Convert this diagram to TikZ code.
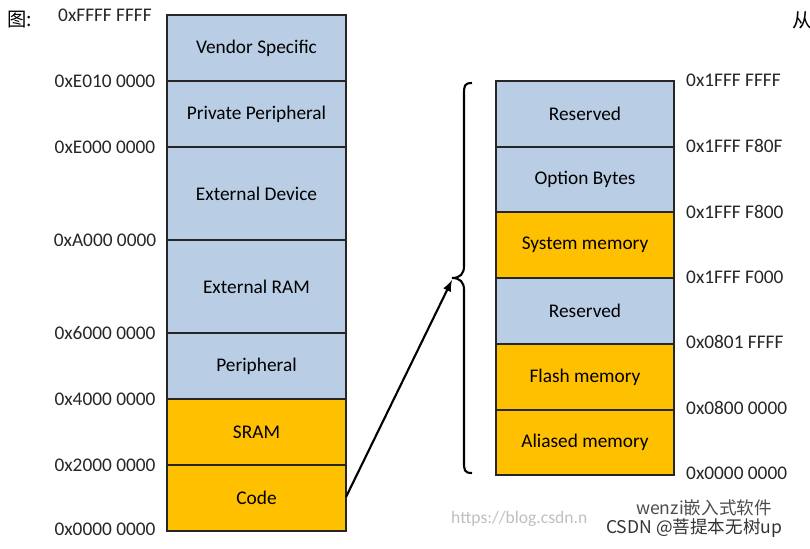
\documentclass[tikz,border=0pt]{standalone}
\usepackage{fontspec}
\setmainfont{Carlito}
\newfontfamily\cjk{Noto Sans CJK SC}
\definecolor{bl}{HTML}{B9CDE5}
\definecolor{og}{HTML}{FFC000}
\begin{document}
\begin{tikzpicture}[x=0.02cm,y=-0.02cm,
 blk/.style={draw=black!85,line width=0.9pt},
 lbl/.style={font=\fontsize{11}{13}\selectfont},
 addr/.style={font=\fontsize{11}{13}\selectfont,text=black!85}]
\useasboundingbox (0,0) rectangle (810,548);
\node[font=\cjk\fontsize{11}{13}\selectfont] (t1) at (20,20) {图:};
\node[font=\cjk\fontsize{11}{13}\selectfont] (t2) at (802,20) {从};
% left column
\foreach \a/\b/\c/\t/\n in {15/81/bl/Vendor Specific/l1,81/147/bl/Private Peripheral/l2,147/240/bl/External Device/l3,240/333/bl/External RAM/l4,333/399/bl/Peripheral/l5,399/465/og/SRAM/l6,465/531/og/Code/l7}{
 \draw[blk,fill=\c] (167,\a) rectangle (346,\b);
 \node[lbl] (\n) at (256.5,{(\a+\b)/2}) {\t};}
\foreach \y/\t [count=\i] in {15/0xFFFF FFFF,81/0xE010 0000,147/0xE000 0000,240/0xA000 0000,333/0x6000 0000,399/0x4000 0000,465/0x2000 0000,529/0x0000 0000}{
 \node[addr] (la\i) at (105,\y) {\t};}
% right column
\foreach \a/\b/\c/\t/\n in {81/147/bl/Reserved/r1,147/212/bl/Option Bytes/r2,212/278/og/System memory/r3,278/344/bl/Reserved/r4,344/410/og/Flash memory/r5,410/475/og/Aliased memory/r6}{
 \draw[blk,fill=\c] (496,\a) rectangle (674,\b);
 \node[lbl] (\n) at (585,{(\a+\b)/2}) {\t};}
\foreach \y/\t [count=\i] in {80/0x1FFF FFFF,146/0x1FFF F80F,212/0x1FFF F800,277/0x1FFF F000,342/0x0801 FFFF,408/0x0800 0000,473/0x0000 0000}{
 \node[addr,anchor=west] (ra\i) at (680,\y) {\t};}
% brace
\draw[line width=1.2pt] (472,83) .. controls (464,83) and (464,86) .. (464,95) -- (464,266) .. controls (464,274) and (460,278) .. (452,278) .. controls (460,278) and (464,282) .. (464,290) -- (464,461) .. controls (464,470) and (464,473) .. (472,473);
\coordinate (tip) at (452,280);
\draw[line width=1.2pt,-latex] (346,497) -- (tip);
% watermarks
\node[font=\cjk\fontsize{10}{12}\selectfont,text=black!70,anchor=west] (w1) at (630,508) {wenzi嵌入式软件};
\node[font=\fontsize{10}{12}\selectfont,text=black!25,anchor=west] (w2) at (445,519) {https://blog.csdn.n};
\node[font=\cjk\fontsize{10}{12}\selectfont,text=black!80,anchor=west] (w3) at (600,528) {CSDN @菩提本无树up};
\end{tikzpicture}
\end{document}
